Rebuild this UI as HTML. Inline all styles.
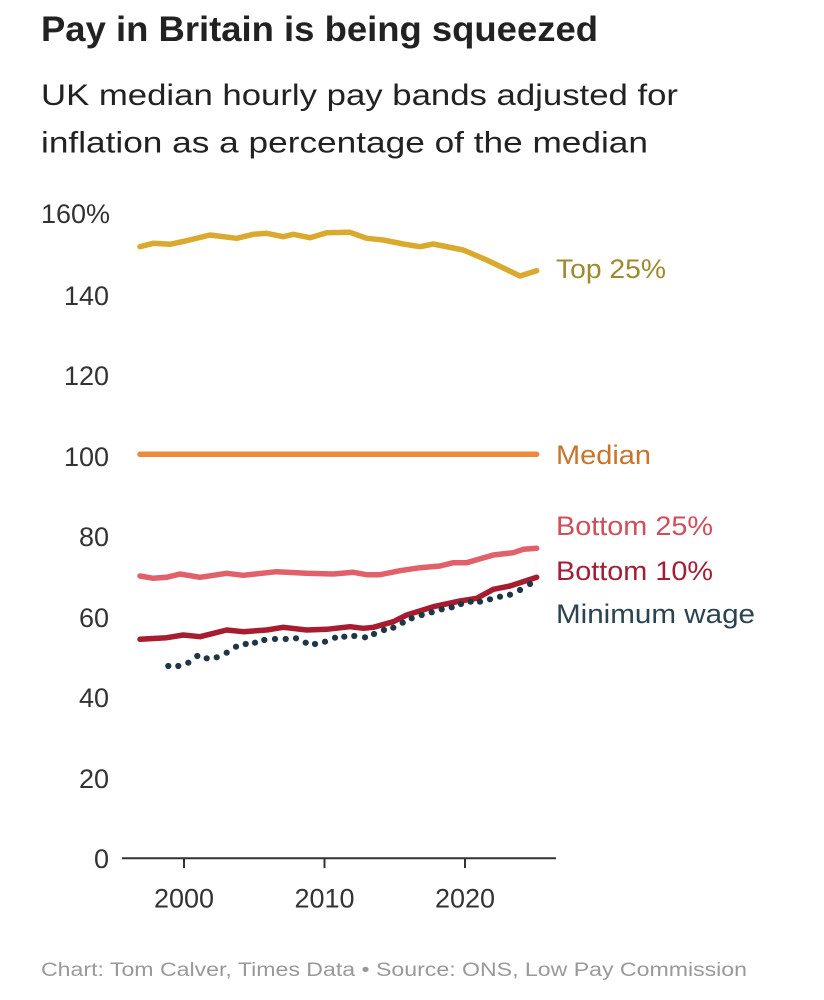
<!DOCTYPE html>
<html>
<head>
<meta charset="utf-8">
<style>
  html, body { margin: 0; padding: 0; background: #ffffff; }
  body { width: 824px; height: 1000px; overflow: hidden; }
  svg { display: block; }
  text { font-family: "Liberation Sans", "DejaVu Sans", sans-serif; }
</style>
</head>
<body>
<svg width="824" height="1000" viewBox="0 0 824 1000" xmlns="http://www.w3.org/2000/svg">
  <rect width="824" height="1000" fill="#ffffff"/>

  <!-- Title -->
  <text x="41" y="41" font-size="35" font-weight="bold" fill="#222222" textLength="557" lengthAdjust="spacingAndGlyphs">Pay in Britain is being squeezed</text>
  <!-- Subtitle -->
  <text x="41" y="105" font-size="30" fill="#222222" textLength="637" lengthAdjust="spacingAndGlyphs">UK median hourly pay bands adjusted for</text>
  <text x="41" y="152.5" font-size="30" fill="#222222" textLength="607" lengthAdjust="spacingAndGlyphs">inflation as a percentage of the median</text>

  <!-- Y axis labels -->
  <g font-size="27" fill="#333333" text-anchor="end">
    <text x="110" y="223">160%</text>
    <text x="109" y="305">140</text>
    <text x="109" y="385">120</text>
    <text x="109" y="466">100</text>
    <text x="109" y="546">80</text>
    <text x="109" y="627">60</text>
    <text x="109" y="707">40</text>
    <text x="109" y="788">20</text>
    <text x="109" y="868">0</text>
  </g>

  <!-- X axis -->
  <line x1="122" y1="858.3" x2="556" y2="858.3" stroke="#333333" stroke-width="2"/>
  <g stroke="#333333" stroke-width="2">
    <line x1="184" y1="858" x2="184" y2="868"/>
    <line x1="324.5" y1="858" x2="324.5" y2="868"/>
    <line x1="465" y1="858" x2="465" y2="868"/>
  </g>
  <g font-size="27" fill="#333333" text-anchor="middle">
    <text x="184" y="907.5">2000</text>
    <text x="324.5" y="907.5">2010</text>
    <text x="465" y="907.5">2020</text>
  </g>

  <!-- Top 25% -->
  <polyline fill="none" stroke="#d9aa2e" stroke-width="5.5" stroke-linejoin="round" stroke-linecap="round"
    points="140,246.7 153.3,243.3 170,244.3 186.7,240.7 210,235 236.7,238.3 253.3,234.3 266.7,233.3 283.3,236.7 293.3,234.3 310,237.7 326.7,232.7 350,232.3 366.7,238.3 383.3,240 403.3,244 420,246.7 433.3,244 463.3,250 486.7,260 520,276 536.7,270.7"/>

  <!-- Median -->
  <line x1="140" y1="454.3" x2="536.7" y2="454.3" stroke="#ef8a3c" stroke-width="5.5" stroke-linecap="round"/>

  <!-- Bottom 25% -->
  <polyline fill="none" stroke="#e2606a" stroke-width="5.5" stroke-linejoin="round" stroke-linecap="round"
    points="140,576 153.3,578.3 166.7,577.3 180,574 200,577.3 226.7,573.3 243.3,575.3 276.7,571.7 306.7,573.3 333.3,574 353.3,572.3 366.7,574.7 380,574.7 400,570.7 420,567.7 440,566 453.3,562.7 466.7,562.7 493.3,555 513.3,552.7 523.3,549.3 536.7,548.3"/>

  <!-- Bottom 10% -->
  <polyline fill="none" stroke="#a81c30" stroke-width="5.5" stroke-linejoin="round" stroke-linecap="round"
    points="140,639.3 166.7,637.7 183.3,635 200,636.7 226.7,630 243.3,631.7 266.7,630 283.3,627.3 306.7,630 326.7,629.3 350,626.7 363.3,628.3 373.3,627.3 393.3,621.7 406.7,615 433.3,606.7 460,601 476.7,598.3 493.3,589.3 510,586 536.7,577.3"/>

  <!-- Minimum wage (dotted) -->
  <g fill="#1f3644">
    <circle cx="168.3" cy="666" r="3.1"/>
    <circle cx="178.3" cy="666" r="3.1"/>
    <circle cx="188.3" cy="662.7" r="3.1"/>
    <circle cx="197.3" cy="656" r="3.1"/>
    <circle cx="206.7" cy="658.3" r="3.1"/>
    <circle cx="216.7" cy="657.3" r="3.1"/>
    <circle cx="226.7" cy="652.7" r="3.1"/>
    <circle cx="236" cy="646.7" r="3.1"/>
    <circle cx="245.7" cy="644" r="3.1"/>
    <circle cx="255" cy="642.7" r="3.1"/>
    <circle cx="264.3" cy="640" r="3.1"/>
    <circle cx="275" cy="639" r="3.1"/>
    <circle cx="285.7" cy="639" r="3.1"/>
    <circle cx="296" cy="638.3" r="3.1"/>
    <circle cx="305.7" cy="642.7" r="3.1"/>
    <circle cx="315" cy="644" r="3.1"/>
    <circle cx="325" cy="641.7" r="3.1"/>
    <circle cx="335" cy="637.7" r="3.1"/>
    <circle cx="344.3" cy="636.7" r="3.1"/>
    <circle cx="354.3" cy="636" r="3.1"/>
    <circle cx="365" cy="637.3" r="3.1"/>
    <circle cx="374" cy="634" r="3.1"/>
    <circle cx="384" cy="630" r="3.1"/>
    <circle cx="393.3" cy="627.7" r="3.1"/>
    <circle cx="402.7" cy="622.7" r="3.1"/>
    <circle cx="411.7" cy="618.3" r="3.1"/>
    <circle cx="421.7" cy="615" r="3.1"/>
    <circle cx="431.7" cy="612.3" r="3.1"/>
    <circle cx="441.7" cy="609.3" r="3.1"/>
    <circle cx="451.7" cy="607.3" r="3.1"/>
    <circle cx="461" cy="604" r="3.1"/>
    <circle cx="470.7" cy="601.7" r="3.1"/>
    <circle cx="480" cy="601.7" r="3.1"/>
    <circle cx="490" cy="599.3" r="3.1"/>
    <circle cx="500" cy="596.7" r="3.1"/>
    <circle cx="510" cy="594.7" r="3.1"/>
    <circle cx="520" cy="590" r="3.1"/>
    <circle cx="530" cy="584" r="3.1"/>
  </g>

  <!-- Series labels -->
  <g font-size="27">
    <text x="556" y="278" fill="#9e8a2c" textLength="110" lengthAdjust="spacingAndGlyphs">Top 25%</text>
    <text x="556" y="464" fill="#c8742a" textLength="95" lengthAdjust="spacingAndGlyphs">Median</text>
    <text x="556" y="535" fill="#cf4f5c" textLength="157" lengthAdjust="spacingAndGlyphs">Bottom 25%</text>
    <text x="556" y="580" fill="#a31f35" textLength="157" lengthAdjust="spacingAndGlyphs">Bottom 10%</text>
    <text x="556" y="623" fill="#2b4350" textLength="199" lengthAdjust="spacingAndGlyphs">Minimum wage</text>
  </g>

  <!-- Footer -->
  <text x="41" y="976" font-size="19" fill="#999999" textLength="706" lengthAdjust="spacingAndGlyphs">Chart: Tom Calver, Times Data • Source: ONS, Low Pay Commission</text>
</svg>
</body>
</html>
